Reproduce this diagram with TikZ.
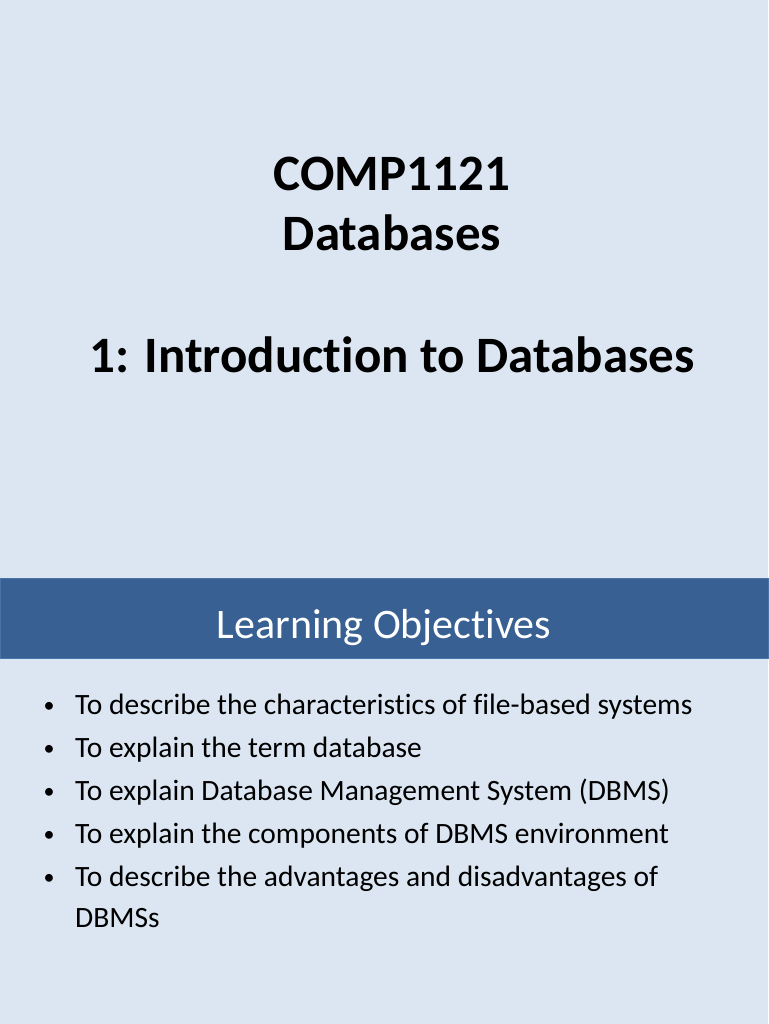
\documentclass[tikz,border=0pt]{standalone}
\usepackage{fontspec}
\setmainfont[Ligatures=CommonOff]{Carlito}
\definecolor{bg}{HTML}{DCE6F2}
\definecolor{band}{HTML}{386092}
\definecolor{bandedge}{HTML}{4A74A8}
\begin{document}
\begin{tikzpicture}[x=1pt,y=-1pt,
  title/.style={font=\fontsize{51}{60}\selectfont\bfseries,anchor=base},
  bullet/.style={font=\fontsize{29.5}{43}\selectfont,anchor=base west,align=left}]
\fill[bg] (0,0) rectangle (768,1024);
\useasboundingbox (0,0) rectangle (768,1024);
\fill[band,draw=bandedge] (0,578) rectangle (768,658);
\node[title] (t1) at (392,191) {COMP1121};
\node[title] (t2) at (392,250) {Databases};
\node[title] (t3) at (392,372) {1: Introduction to Databases};
\node[font=\fontsize{42}{44}\selectfont,text=white,anchor=base] (lo) at (384,638) {Learning Objectives};
\foreach \y/\t [count=\i] in {714/To describe the characteristics of file-based systems,
  757/To explain the term database,
  800/To explain Database Management System (DBMS),
  843/To explain the components of DBMS environment,
  886/To describe the advantages and disadvantages of}{
  \node[font=\fontsize{22}{43}\selectfont,anchor=base] (b\i) at (49,\y-2) {•};
  \node[bullet,inner sep=0pt] (l\i) at (75,\y) {\t};
}
\node[bullet,inner sep=0pt] (l6) at (75,927) {DBMSs};
\end{tikzpicture}
\end{document}
